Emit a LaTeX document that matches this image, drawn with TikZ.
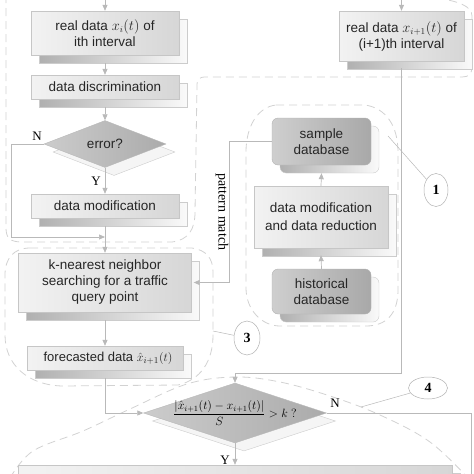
\documentclass[tikz,border=0pt]{standalone}
\usepackage{fontspec}
\setmainfont{Liberation Sans}
\newfontfamily\serifF{Liberation Serif}
\usetikzlibrary{shapes.geometric,shadows,arrows.meta,backgrounds}
\begin{document}
\begin{tikzpicture}[x=1pt,y=-1pt,
  boxtext/.style={font=\fontsize{13.5}{16}\selectfont, text=black!85, align=center, inner sep=0pt},
  boxshadow/.style={general shadow={shadow xshift=8pt, shadow yshift=-8pt, draw=gray!40, line width=0.4pt, left color=gray!62, right color=gray!4}},
  box/.style={boxtext, boxshadow, draw=gray!45, line width=0.4pt, left color=gray!10, right color=gray!32},
  dbbox/.style={boxtext, boxshadow, rounded corners=6pt, draw=gray!60, line width=0.4pt, left color=gray!38, right color=gray!68},
  dia/.style={diamond, boxtext, draw=gray!55, line width=0.4pt, left color=gray!40, right color=gray!66,
    general shadow={shadow xshift=9pt, shadow yshift=-8pt, draw=gray!40, line width=0.4pt, fill=gray!8}},
  arr/.style={draw=gray!55, line width=0.7pt, -{Triangle[length=6pt,width=5pt]}},
  conn/.style={draw=gray!55, line width=0.7pt},
  region/.style={draw=gray!35, line width=0.8pt, dash pattern=on 8pt off 5pt},
  num/.style={ellipse, draw=gray!60, line width=0.5pt, fill=white, inner sep=0pt, font=\serifF\bfseries\fontsize{14}{16}\selectfont},
  yn/.style={font=\serifF\fontsize{13}{15}\selectfont, inner sep=0pt},
  lab/.style={draw=gray!55, line width=0.5pt}
]
\useasboundingbox (0,0) rectangle (474,474);

% nodes
\node[box, minimum width=148pt, minimum height=44pt] (b1) at (105,33) {real data \(x_i(t)\) of\\ith interval};
\node[box, minimum width=148pt, minimum height=24pt] (b2) at (105,87) {data discrimination};
\node[dia, inner sep=0pt, aspect=2.6, minimum width=122pt, minimum height=47pt] (d1) at (105,144) {error?};
\node[box, minimum width=148pt, minimum height=24pt] (b3) at (105,206) {data modification};
\node[box, minimum width=173pt, minimum height=59pt] (b4) at (105,282.5) {k-nearest neighbor\\searching for a traffic\\query point};
\node[box, minimum width=156pt, minimum height=24pt, font=\fontsize{13}{16}\selectfont] (b5) at (105,358) {\hspace*{6pt}forecasted data\;\(\hat{x}_{i+1}(t)\)};
\node[dia, inner sep=0pt, minimum width=183pt, minimum height=60pt,
  label={[font=\fontsize{12}{14}\selectfont, inner sep=0pt]center:\(\displaystyle\frac{\bigl|\hat{x}_{i+1}(t)-x_{i+1}(t)\bigr|}{S}>k\;?\)}] (d2) at (235,413) {};
\node[box, minimum width=434pt, minimum height=34pt] (b6) at (235,482) {};
\node[box, minimum width=125pt, minimum height=50pt] (r1) at (401.5,36) {real data \(x_{i+1}(t)\) of\\(i+1)th interval};
\node[dbbox, minimum width=99pt, minimum height=47pt] (s1) at (321.5,141.5) {sample\\database};
\node[box, minimum width=134pt, minimum height=62pt, font=\fontsize{13.5}{18}\selectfont] (m1) at (321,217) {data modification\\and data reduction};
\node[dbbox, minimum width=99pt, minimum height=45pt] (h1) at (321.5,291.5) {historical\\database};

\node[num, minimum width=24pt, minimum height=33pt] (e1) at (436,190) {1};
\node[num, minimum width=26pt, minimum height=34pt] (e3) at (247,338) {3};
\node[num, minimum width=39pt, minimum height=22pt] (e4) at (428,388) {4};

\coordinate (t1) at (105,0);
\coordinate (t2) at (401.5,0);
\coordinate (j1) at (105,237);
\coordinate (j2) at (401.5,373);
\coordinate (c1) at (388,136);
\coordinate (c3) at (213,331);
\coordinate (c4) at (361,407);

% dashed regions
\begin{scope}[on background layer]
\draw[region] (6,-5) -- (6,228) .. controls (6,238) and (10,242) .. (22,242) -- (172,242)
  .. controls (188,240) and (195,230) .. (195,212) -- (197,86) .. controls (197,79) and (199,77) .. (206,77)
  -- (462,77) .. controls (469,77) and (472,74) .. (472,66) -- (472,16) .. controls (472,6) and (458,1) .. (436,-2);
\draw[region] (30,248) -- (192,248) .. controls (206,250) and (213,258) .. (213,272) -- (213,335)
  .. controls (213,362) and (200,380) .. (178,385) -- (62,386) .. controls (28,385) and (5,365) .. (5,335)
  -- (5,275) .. controls (5,258) and (14,248) .. (30,248);
\draw[region] (276,105) -- (365,105) .. controls (386,108) and (398,126) .. (398,152) -- (398,290)
  .. controls (398,314) and (386,326) .. (366,326) -- (280,326) .. controls (262,326) and (246,310) .. (246,288)
  -- (246,152) .. controls (246,126) and (258,107) .. (276,105);
\draw[region] plot[smooth, tension=0.6] coordinates {(10,478) (33,451) (83,431) (130,409) (187,384) (235,377) (280,382) (330,396) (380,415) (430,442) (470,480)};
\end{scope}

% connectors
\draw[arr] (t1) -- (b1.north);
\draw[arr] ([yshift=-8pt]b1.south) -- (b2.north);
\draw[arr] ([yshift=-8pt]b2.south) -- (d1.north);
\draw[arr] (d1.south) -- (b3.north);
\draw[arr] (d1.west) -- ++(-32,0) |- (j1);
\draw[arr] ([yshift=-8pt]b3.south) -- (b4.north);
\draw[arr] ([yshift=-8pt]b4.south) -- (b5.north);
\draw[arr] ([yshift=-8pt]b5.south) |- (d2.west);
\draw[arr] (d2.south) -- (b6.north);
\draw[conn] (d2.east) -- ++(145,0) -- ++(0,80);
\draw[arr] (t2) -- (r1.north);
\draw[arr] ([yshift=-7pt]r1.south) -- (j2) -| (d2.north);
\draw[arr] (h1.north) -- ([yshift=-7pt]m1.south);
\draw[arr] (m1.north) -- ([yshift=-8pt]s1.south);
\draw[arr] (s1.west) -- ++(-42,0) |- ([xshift=2pt]b4.east);

\draw[lab] (c1) -- (e1);
\draw[lab] (c3) -- (e3);
\draw[lab] (c4) -- (e4);

% labels
\node[yn] (nN1) at (37,136) {N};
\node[yn] (nY1) at (96,181) {Y};
\node[yn] (nN2) at (335,403) {N};
\node[yn] (nY2) at (225,460) {Y};
\node[yn, rotate=-90, font=\serifF\fontsize{14}{16}\selectfont] (pm) at (222,212) {pattern match};
\end{tikzpicture}
\end{document}
